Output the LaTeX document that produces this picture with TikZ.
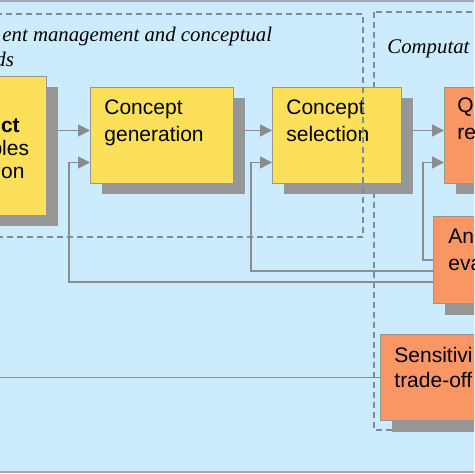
\documentclass[tikz,border=0pt]{standalone}
\usepackage{fontspec}
\setmainfont{Liberation Serif}
\setsansfont{Liberation Sans}
\usetikzlibrary{arrows.meta,shadows,positioning}

\definecolor{skyfill}{RGB}{204,235,252}
\definecolor{framegray}{RGB}{160,170,180}
\definecolor{boxyellow}{RGB}{253,224,90}
\definecolor{boxorange}{RGB}{250,150,100}
\definecolor{shadegray}{RGB}{150,150,150}
\definecolor{edgegray}{RGB}{150,150,150}
\definecolor{linkgray}{RGB}{140,140,140}
\definecolor{dashgray}{RGB}{125,140,155}

\tikzset{
  stage/.style={draw=edgegray, line width=0.5pt, inner sep=0pt, rectangle,
    drop shadow={shadow xshift=5.5pt, shadow yshift=-5.5pt, fill=shadegray, opacity=1}},
  concept/.style={stage, fill=boxyellow},
  compute/.style={stage, fill=boxorange},
  stagetext/.style={font=\sffamily\fontsize{10.5}{13.5}\selectfont, align=left, inner sep=0pt, anchor=north west},
  link/.style={draw=linkgray, line width=0.8pt},
  feed/.style={link, -{Triangle[length=6pt,width=6pt]}},
  group/.style={draw=dashgray, line width=0.7pt, dash pattern=on 3pt off 2pt},
  grouptitle/.style={font=\itshape\fontsize{10.4}{12.5}\selectfont, inner sep=0pt, anchor=base west},
}

\begin{document}
\begin{tikzpicture}[x=0.5pt, y=-0.5pt]
    \useasboundingbox (0,0) rectangle (474,474);
    \clip (0,0) rectangle (474,474);
    \fill[white] (0,0) rectangle (474,474);
    \draw[framegray, line width=1pt, fill=skyfill] (-10,1) rectangle (490,472);

    % Computational group (behind the boxes)
    \draw[group] (374,12) rectangle (500,430);
    \node[grouptitle] (comptitle) at (387,54) {Computat};

    % Stages
    \node[concept, anchor=north east, minimum width=70pt, minimum height=69.5pt] (prin) at (47,76) {};
    \node[concept, anchor=north west, minimum width=71.5pt, minimum height=48pt] (gen) at (90,87) {};
    \node[concept, anchor=north west, minimum width=64.5pt, minimum height=48pt] (sel) at (272,87) {};
    \node[compute, anchor=north west, minimum width=73pt, minimum height=48pt] (qfd) at (444,87) {};
    \node[compute, anchor=north west, minimum width=73.5pt, minimum height=43.5pt] (ana) at (433,216) {};
    \node[compute, anchor=north west, minimum width=90pt, minimum height=43pt] (sens) at (380,334) {};

    \node[stagetext, font=\sffamily\fontsize{10.5}{11.5}\selectfont] (printext) at (-60,117) {\textbf{Product}\\principles\\definition};
    \node[stagetext] (gentext) at ([xshift=7pt, yshift=-6.25pt]gen.north west) {Concept\\generation};
    \node[stagetext] (seltext) at ([xshift=7pt, yshift=-6.25pt]sel.north west) {Concept\\selection};
    \node[stagetext] (qfdtext) at ([xshift=6.5pt, yshift=-5pt]qfd.north west) {Q\\re};
    \node[stagetext] (anatext) at ([xshift=7.5pt, yshift=-6.5pt]ana.north west) {An\\eva};
    \node[stagetext, font=\sffamily\fontsize{10.5}{12.5}\selectfont] (senstext) at ([xshift=7pt, yshift=-6.5pt]sens.north west) {Sensitivi\\trade-off};

    % Conceptual group (over the boxes)
    \draw[group] (-20,14) rectangle (363,237);
    \node[grouptitle] (conctitle) at (2,42) {ent management and conceptual};
    \node[grouptitle] (conctitlb) at (-5,67) {ds};

    % Forward links
    \coordinate (gin) at ([yshift=2.5pt]gen.west);
    \coordinate (gfb) at ([yshift=-13.5pt]gen.west);
    \coordinate (sin) at ([yshift=2.5pt]sel.west);
    \coordinate (sfb) at ([yshift=-13.5pt]sel.west);
    \coordinate (qin) at ([yshift=2.5pt]qfd.west);
    \coordinate (qfb) at ([yshift=-13.5pt]qfd.west);

    \draw[feed] ([xshift=5.5pt]prin.east |- gin) -- (gin);
    \draw[feed] ([xshift=5.5pt]gen.east |- sin) -- (sin);
    \draw[feed] ([xshift=5.5pt]sel.east |- qin) -- (qin);

    % Feedback links
    \draw[feed] (ana.west) -- ++(-5pt,0) |- (qfb);
    \draw[feed] ([yshift=-5.5pt]ana.west) -| ([xshift=-10.5pt]sfb) -- (sfb);
    \draw[feed] ([yshift=-11pt]ana.west) -| ([xshift=-10.5pt]gfb) -- (gfb);

    \coordinate (edgeleft) at (-10,378);
    \draw[link] (sens.west) -- (sens.west -| edgeleft);
\end{tikzpicture}
\end{document}
